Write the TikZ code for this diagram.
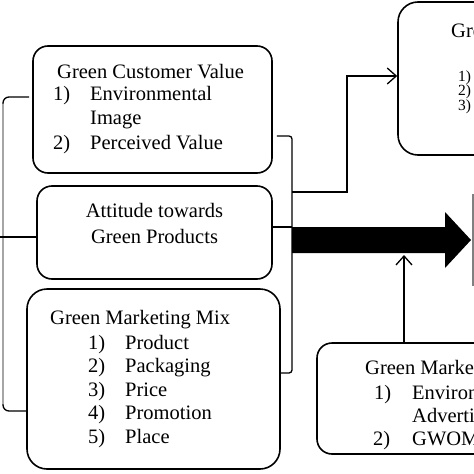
\documentclass[tikz,border=0pt]{standalone}
\usepackage{fontspec}
\setmainfont{Liberation Serif}
\usetikzlibrary{arrows.meta}
\tikzset{
  box/.style={draw, line width=1.6pt, rounded corners=15pt, inner sep=0pt},
  txt/.style={inner sep=0pt, anchor=base west, font=\fontsize{20.5pt}{24pt}\selectfont},
  ctxt/.style={txt, anchor=base},
  stxt/.style={txt, font=\fontsize{15.5pt}{15.5pt}\selectfont},
  link/.style={line width=1.3pt},
  barb/.style={-{Straight Barb[length=9pt,width=16pt]}}
}
\begin{document}
\begin{tikzpicture}[x=1pt,y=-1pt]
            \useasboundingbox (0,0) rectangle (474,474);
            \clip (0,0) rectangle (474,474);
            % boxes
            \node[box, minimum width=239pt, minimum height=127pt] (CV) at (152.5,109.5) {};
            \node[box, minimum width=235pt, minimum height=93pt] (Att) at (154.5,232.5) {};
            \node[box, rounded corners=20pt, minimum width=253pt, minimum height=180pt] (Mix) at (153.5,379) {};
            \node[box, rounded corners=20pt, minimum width=162pt, minimum height=153pt] (TR) at (479,78.5) {};
            \node[box, minimum width=283pt, minimum height=111pt] (BR) at (458.5,398.5) {};
            \node[draw=gray, line width=1.5pt, inner sep=0pt, minimum width=127pt, minimum height=90pt] (GR) at (536.5,240) {};
            % texts
            \node[txt] (CV0) at (57,78) {Green Customer Value};
            \node[txt] (CV1n) at (53,100) {1)};
            \node[txt] (CV1) at (90,100) {Environmental};
            \node[txt] (CV1b) at (90,124) {Image};
            \node[txt] (CV2n) at (53,149) {2)};
            \node[txt] (CV2) at (90,149) {Perceived Value};
            \node[ctxt] (Att1) at (154.5,217) {Attitude towards};
            \node[ctxt] (Att2) at (154.5,243) {Green Products};
            \node[txt] (Mix0) at (50,324) {Green Marketing Mix};
            \node[txt] (Mix1n) at (88,349) {1)};
            \node[txt] (Mix1) at (125,349) {Product};
            \node[txt] (Mix2n) at (88,372) {2)};
            \node[txt] (Mix2) at (125,372) {Packaging};
            \node[txt] (Mix3n) at (88,396) {3)};
            \node[txt] (Mix3) at (125,396) {Price};
            \node[txt] (Mix4n) at (88,419) {4)};
            \node[txt] (Mix4) at (125,419) {Promotion};
            \node[txt] (Mix5n) at (88,443) {5)};
            \node[txt] (Mix5) at (125,443) {Place};
            \node[txt] (TR0) at (451,37) {Green};
            \node[stxt] (TR1n) at (458,81) {1)};
            \node[stxt] (TR2n) at (458,95.5) {2)};
            \node[stxt] (TR3n) at (458,110) {3)};
            \node[txt] (BR0) at (365,374) {Green Marketing};
            \node[txt] (BR1n) at (374,399) {1)};
            \node[txt] (BR1) at (412,399) {Environmental};
            \node[txt] (BR1b) at (412,422) {Advertising};
            \node[txt] (BR2n) at (373,445) {2)};
            \node[txt] (BR2) at (412,445) {GWOM};
            % connectors
            \coordinate (lT) at (3,97);
            \coordinate (lB) at (3,411);
            \coordinate (lM) at (0,237);
            \coordinate (rT) at (292,136);
            \coordinate (rB) at (292,373);
            \coordinate (rA) at (292,227);
            \coordinate (rM) at (292,192);
            \coordinate (tU) at (347,76);
            \coordinate (upT) at (404,255);
            \draw[link, rounded corners=6pt] ([xshift=-3pt]CV.west |- lT) -- (lT) -- (lB) -- (Mix.west |- lB);
            \draw[gray!70, line width=2pt] (3,104) -- (3,404);
            \draw[link] (lM) -- (Att.west |- lM);
            \draw[link, rounded corners=3pt] ([xshift=4pt]CV.east |- rT) -- (rT) -- (rB) -- (Mix.east |- rB);
            \draw[link] (Att.east |- rA) -- (rA);
            \draw[link, barb] (rM) -| (tU) -- (TR.west |- tU);
            \draw[link, barb] (BR.north -| upT) -- (upT);
            \fill (rA) -- (445,227) -- (445,212) -- (471,240) -- (445,268) -- (445,253) -- (292,253) -- cycle;
        \end{tikzpicture}
\end{document}
